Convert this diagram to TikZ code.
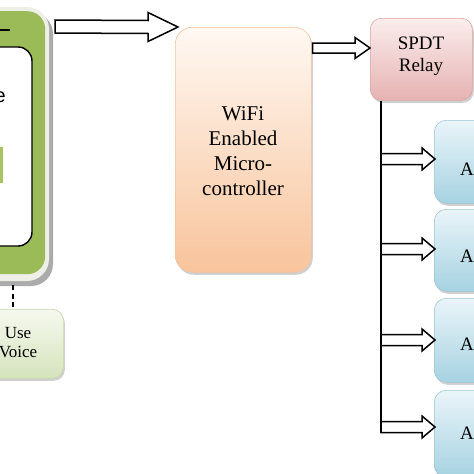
\documentclass[tikz,border=0pt]{standalone}
\usepackage{fontspec}
\setmainfont{Liberation Serif}
\setsansfont{Liberation Sans}
\usetikzlibrary{calc,shadows}
\definecolor{phgreen}{HTML}{9BBB59}
\definecolor{phgreenB}{HTML}{A8C461}
\definecolor{phrim}{HTML}{EEF0E8}
\definecolor{phshadow}{HTML}{ABABAB}
\definecolor{mcTop}{HTML}{FFF8F2}
\definecolor{mcBot}{HTML}{F8C49C}
\definecolor{mcEdge}{HTML}{F0C4A2}
\definecolor{spTop}{HTML}{FBEDED}
\definecolor{spBot}{HTML}{E6B2B2}
\definecolor{spEdge}{HTML}{DDA6A6}
\definecolor{apTop}{HTML}{EAF5F9}
\definecolor{apBot}{HTML}{A6D2E1}
\definecolor{apEdge}{HTML}{9EC6D5}
\definecolor{vcTop}{HTML}{F6F9EF}
\definecolor{vcBot}{HTML}{D5E3BC}
\definecolor{vcEdge}{HTML}{C6D6A8}
\newcommand\blockarrow[5]{%
  \draw[hollow] ($(#1)+(0,-#3)$) -- ($(#2)+(-#5,-#3)$) -- ($(#2)+(-#5,-#4)$) -- (#2)
    -- ($(#2)+(-#5,#4)$) -- ($(#2)+(-#5,#3)$) -- ($(#1)+(0,#3)$) -- cycle;}
\begin{document}
\begin{tikzpicture}[x=1pt,y=-1pt,
  hollow/.style={draw=black, fill=white, line width=1.5pt, line join=miter},
  softshadow/.style={drop shadow={shadow xshift=1.5pt, shadow yshift=-2.5pt, opacity=0.3, fill=black!60}},
  mcbox/.style={rounded corners=17, top color=mcTop, bottom color=mcBot, draw=mcEdge, line width=0.6pt, softshadow, inner sep=0pt},
  spbox/.style={rounded corners=11, top color=spTop, bottom color=spBot, draw=spEdge, line width=0.6pt, softshadow, inner sep=0pt},
  apbox/.style={rounded corners=12, top color=apTop, bottom color=apBot, draw=apEdge, line width=0.6pt, softshadow, inner sep=0pt},
  vcbox/.style={rounded corners=11, top color=vcTop, bottom color=vcBot, draw=vcEdge, line width=0.6pt, softshadow, inner sep=0pt},
  bigtxt/.style={font=\fontsize{21}{25}\selectfont, align=center, inner sep=0pt},
  midtxt/.style={font=\fontsize{19}{22}\selectfont, align=center, inner sep=0pt},
  smalltxt/.style={font=\fontsize{17}{19}\selectfont, align=center, inner sep=0pt},
  aptxt/.style={font=\fontsize{19}{22}\selectfont, inner sep=0pt},
  bus/.style={line width=1.5pt}
]
\useasboundingbox (0,0) rectangle (474,474);
\clip (0,0) rectangle (474,474);
\fill[white] (0,0) rectangle (474,474);

% phone graphic
\fill[phshadow, rounded corners=22] (-40,12) rectangle (53,286);
\fill[phrim, rounded corners=22] (-40,7) rectangle (49,281);
\node[fill=phgreen, rounded corners=18, minimum width=85, minimum height=263, anchor=north west, inner sep=0pt] (phone) at (-40,11) {};
\draw[line width=1.4pt, fill=white, rounded corners=14] (-40,47) rectangle (32,246);
\draw[line width=1.4pt] (-5,30) -- (10,30);
\fill[phgreenB] (-10,147) rectangle (3,183);
\node[font=\sffamily\fontsize{20}{24}\selectfont, anchor=base east, inner sep=0pt] (ptext) at (6,102) {e};

% use voice
\node[vcbox, minimum width=103, minimum height=69, anchor=north west] (voice) at (-40,309) {};
\node[smalltxt] (voicetext) at (18,342.5) {Use\\Voice};
\coordinate (d1) at (13,285);
\draw[line width=1.7pt, dash pattern=on 5pt off 3.5pt] (d1) -- (voice.north -| d1);

% microcontroller
\node[mcbox, minimum width=136, minimum height=245, anchor=north west] (micro) at (175,27) {};
\node[bigtxt] (microtext) at (243,151) {WiFi\\Enabled\\Micro-\\controller};

% relay
\node[spbox, minimum width=102, minimum height=82, anchor=north west] (spdt) at (370,18) {};
\node[midtxt] (spdttext) at (421,56) {SPDT\\Relay};

% appliances
\node[apbox, minimum width=90, minimum height=83, anchor=north west] (ap1) at (434,120) {};
\node[apbox, minimum width=90, minimum height=82, anchor=north west] (ap2) at (434,209) {};
\node[apbox, minimum width=90, minimum height=84, anchor=north west] (ap3) at (434,298) {};
\node[apbox, minimum width=90, minimum height=87, anchor=north west] (ap4) at (434,390) {};
\foreach \i/\y in {1/175,2/262,3/350,4/439}{
  \node[aptxt, anchor=base west] (aptext\i) at (460,\y) {A};
}

% big arrow phone -> micro
\coordinate (a0s) at (55,26.5);
\coordinate (a0t) at ($(micro.north west)+(3,0)$);
\blockarrow{a0s}{a0t}{6.5}{14.5}{30}

% micro -> relay
\coordinate (a1s) at ($(micro.east |- 0,48)+(1,0)$);
\coordinate (a1t) at (spdt.west |- a1s);
\blockarrow{a1s}{a1t}{5}{10.5}{15}

% bus
\coordinate (bus0) at ($(spdt.south west)+(11,0)$);
\coordinate (b1) at (bus0 |- 0,159);
\coordinate (b2) at (bus0 |- 0,249);
\coordinate (b3) at (bus0 |- 0,340);
\coordinate (b4) at (bus0 |- 0,427);
\coordinate (busend) at ($(b4)+(0,5.5)$);
\foreach \i in {1,2,3,4}{
  \coordinate (t\i) at ($(ap\i.west |- b\i)+(1,0)$);
  \blockarrow{b\i}{t\i}{5.5}{11}{13}
}
\draw[bus] (bus0) -- (busend);
\end{tikzpicture}
\end{document}
